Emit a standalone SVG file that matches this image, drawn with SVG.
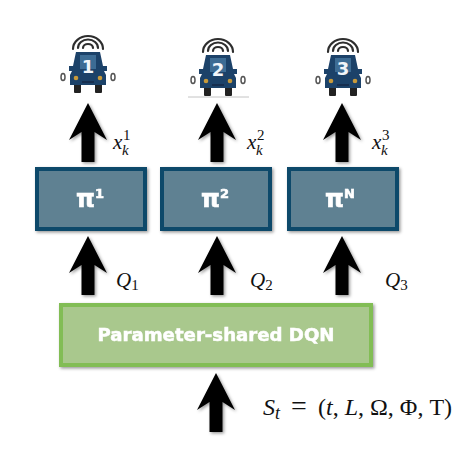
<svg xmlns="http://www.w3.org/2000/svg" width="474" height="466" viewBox="0 0 474 466">
<style>
.lbl{font-family:"Liberation Serif","DejaVu Serif",serif;font-size:21px;fill:#111}
.it{font-style:italic}
.sup{font-size:15px}
.pi{font-family:"DejaVu Sans",sans-serif;font-weight:bold;fill:#fff;font-size:24px;stroke:#fff;stroke-width:.6}
.piup{font-size:13px}
.num{font-family:"DejaVu Sans",sans-serif;font-weight:bold;font-size:18px;fill:#f2f6fa;text-anchor:middle}
.blue{fill:#5f8192;stroke:#0c4a6b;stroke-width:4}
.arc{fill:none;stroke:#2f2f2f;stroke-width:2.200;stroke-linecap:round}
</style>
<defs>
<filter id="sh" x="-20%" y="-20%" width="140%" height="140%"><feDropShadow dx="1.500" dy="1.500" stdDeviation="1.600" flood-color="#000" flood-opacity=".4"/></filter>
<filter id="soft" x="-10%" y="-10%" width="120%" height="120%"><feGaussianBlur stdDeviation=".4"/></filter>
<path id="arrow" d="M0 0L19 37L6.500 29V59H-6.500V29L-19 37Z" fill="#000" filter="url(#sh)"/>
<g id="car" filter="url(#soft)">
<path class="arc" d="M-15 -16A15 13 0 0 1 15 -16"/>
<path class="arc" d="M-10 -17A10 8.500 0 0 1 10 -17"/>
<path class="arc" d="M-5 -17A5 4 0 0 1 5 -17"/>
<rect x="-14" y="18" width="7" height="10" rx="1" fill="#222"/>
<rect x="7" y="18" width="7" height="10" rx="1" fill="#222"/>
<path d="M-12 -13H12L15 1H19V6H16L18 10V20H-18V10L-16 6H-19V1H-15Z" fill="#1d4269"/>
<rect x="-8" y="-10" width="16" height="14" fill="#3d6c94"/>
<circle cx="-12" cy="13" r="2.300" fill="#c79a3a"/>
<circle cx="12" cy="13" r="2.300" fill="#c79a3a"/>
<path d="M-6 17H6" stroke="#0f2a47" stroke-width="1.500"/>
<ellipse cx="-25" cy="12" rx="2" ry="3.600" fill="none" stroke="#555" stroke-width="1.500"/>
<ellipse cx="25" cy="12" rx="2" ry="3.600" fill="none" stroke="#555" stroke-width="1.500"/>
</g>
</defs>
<rect width="474" height="466" fill="#fff"/>

<g id="connectors">
<use href="#arrow" x="88" y="103"/>
<use href="#arrow" x="217" y="103"/>
<use href="#arrow" x="342" y="103"/>
<use href="#arrow" x="88" y="236"/>
<use href="#arrow" x="217" y="236"/>
<use href="#arrow" x="342" y="236"/>
<use href="#arrow" x="216" y="373"/>
</g>

<g id="car1"><use href="#car" x="88" y="65"/><text class="num" x="88" y="73">1</text></g>
<g id="car2"><use href="#car" x="218" y="68"/><text class="num" x="218" y="76">2</text><path d="M188 97H249" stroke="#c4c4c4" stroke-width="1"/></g>
<g id="car3"><use href="#car" x="343" y="68"/><text class="num" x="343" y="75">3</text></g>

<g id="policy1" filter="url(#sh)"><rect class="blue" x="37" y="169" width="108" height="60"/><text class="pi" x="76" y="207">π<tspan class="piup" dy="-9">1</tspan></text></g>
<g id="policy2" filter="url(#sh)"><rect class="blue" x="162" y="169" width="108" height="60"/><text class="pi" x="201" y="207">π<tspan class="piup" dy="-9">2</tspan></text></g>
<g id="policyN" filter="url(#sh)"><rect class="blue" x="289" y="169" width="108" height="60"/><text class="pi" x="325" y="207">π<tspan class="piup" dy="-9">N</tspan></text></g>

<g id="dqn" filter="url(#sh)"><rect x="61" y="305" width="310" height="60" fill="#a9c88d" stroke="#82bd55" stroke-width="4"/><text x="216" y="341" text-anchor="middle" font-family="'DejaVu Sans',sans-serif" font-weight="bold" font-size="17" textLength="237" lengthAdjust="spacingAndGlyphs" fill="#fff" stroke="#fff" stroke-width=".5">Parameter-shared DQN</text></g>

<g id="labels">
<text class="lbl it" x="113" y="149">x</text><text class="lbl sup" x="123" y="140">1</text><text class="lbl it sup" x="122" y="155">k</text>
<text class="lbl it" x="247" y="149">x</text><text class="lbl sup" x="257" y="140">2</text><text class="lbl it sup" x="256" y="155">k</text>
<text class="lbl it" x="372" y="149">x</text><text class="lbl sup" x="382" y="140">3</text><text class="lbl it sup" x="381" y="155">k</text>
<text class="lbl it" x="116" y="287">Q<tspan class="sup" font-style="normal" dy="3">1</tspan></text>
<text class="lbl it" x="250" y="287">Q<tspan class="sup" font-style="normal" dy="3">2</tspan></text>
<text class="lbl it" x="385" y="287">Q<tspan class="sup" font-style="normal" dy="3">3</tspan></text>
<text x="263" y="415" font-family="'Liberation Serif',serif" font-size="24" fill="#111"><tspan font-style="italic">S</tspan><tspan font-style="italic" font-size="18" dy="4">t</tspan><tspan dy="-4" x="291" font-size="28">=</tspan><tspan x="318">(</tspan><tspan font-style="italic">t</tspan>, <tspan font-style="italic">L</tspan>, Ω, Φ, T)</text>
</g>
</svg>
